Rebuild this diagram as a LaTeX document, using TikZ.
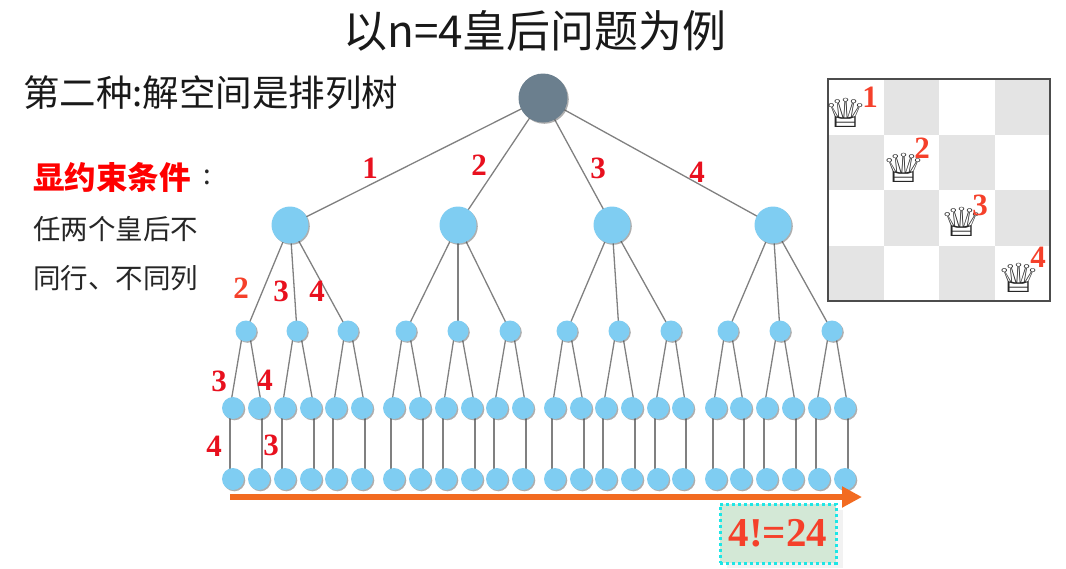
\documentclass[tikz,border=0pt]{standalone}
\usepackage{fontspec}
\setmainfont{Liberation Serif}
\newfontfamily\cjk{Noto Sans CJK SC}
\newfontfamily\symf{DejaVu Sans Bold}
\usetikzlibrary{shadows,arrows.meta,backgrounds}
\definecolor{nodeblue}{HTML}{7FCDF2}
\definecolor{rootgrey}{HTML}{6B7F8E}
\definecolor{edgegrey}{HTML}{808080}
\definecolor{cellgrey}{HTML}{E4E4E4}
\definecolor{lblred}{HTML}{E8101E}
\definecolor{lblorange}{HTML}{F5402A}
\definecolor{arroworange}{HTML}{F26B21}
\definecolor{boxgreen}{HTML}{D3E8D6}
\definecolor{dotcyan}{HTML}{1CE6E6}
\tikzset{
  x=1pt,y=-1pt,
  treenode/.style={circle,fill=nodeblue,draw=none,inner sep=0pt,
    drop shadow={shadow xshift=1.3pt,shadow yshift=-1.3pt,opacity=.45,fill=black!70}},
  lone/.style={treenode,minimum size=37pt},
  ltwo/.style={treenode,minimum size=21pt},
  lthree/.style={treenode,minimum size=22pt},
  rootnode/.style={treenode,fill=rootgrey,minimum size=49pt},
  edge/.style={draw=edgegrey,line width=1.3pt},
  num/.style={inner sep=0pt,font=\fontsize{31}{31}\selectfont\bfseries,text=lblred},
  numo/.style={num,text=lblorange},
  cjktext/.style={inner sep=0pt,font=\cjk\fontsize{27.5}{27.5}\selectfont,text=black!85},
  queen/.style={inner sep=0pt,font=\symf\fontsize{40}{40}\selectfont,text=black!85},
  cell/.style={fill=cellgrey,draw=none},
}
\begin{document}
\begin{tikzpicture}
\useasboundingbox (0,0) rectangle (1066,568);
% tree nodes
\node[rootnode] (r) at (543,98) {};
\foreach \x [count=\i] in {290,458,612,773}
  \node[lone] (a\i) at (\x,225) {};
\foreach \x [count=\i] in {246,297,348,406,458,510,567,619,671,728,780,832}
  \node[ltwo] (b\i) at (\x,331) {};
\foreach \x [count=\i] in {233,259,285,311,336,362,394,420,446,472,497,523,555,581,606,632,658,683,716,741,767,793,819,845}{
  \node[lthree] (c\i) at (\x,408) {};
  \node[lthree] (d\i) at (\x,479) {};
}
% connectors
\begin{scope}[on background layer]
  \foreach \i in {1,...,4} \draw[edge] (r.center) -- (a\i.center);
  \foreach \i in {1,...,12}{
    \pgfmathtruncatemacro\p{int((\i+2)/3)}
    \draw[edge] (a\p.center) -- (b\i.center);
  }
  \foreach \i in {1,...,24}{
    \pgfmathtruncatemacro\p{int((\i+1)/2)}
    \pgfmathtruncatemacro\s{mod(\i,2)==1 ? -3 : 3}
    \draw[edge] ([xshift=\s pt]b\p.center) -- ([xshift=\s pt]c\i.center);
    \draw[edge] ([xshift=\s pt]c\i.center) -- ([xshift=\s pt]d\i.center);
  }
\end{scope}
% edge labels
\node[num] (l1) at (370,168) {1};
\node[num] (l2) at (479,165) {2};
\node[num] (l3) at (598,168) {3};
\node[num] (l4) at (697,172) {4};
\node[numo] (m1) at (241,288) {2};
\node[num] (m2) at (281,291) {3};
\node[num] (m3) at (317,291) {4};
\node[num] (n1) at (219,381) {3};
\node[num] (n2) at (265,380) {4};
\node[num] (n3) at (214,446) {4};
\node[num] (n4) at (271,445) {3};
% texts
\node[inner sep=0pt,font=\cjk\fontsize{44}{44}\selectfont,text=black!90] (title) at (535,31) {以n=4皇后问题为例};
\node[inner sep=0pt,anchor=west,font=\cjk\fontsize{36.5}{36.5}\selectfont,text=black!90] (sub) at (23,93) {第二种:解空间是排列树};
\node[inner sep=0pt,anchor=west,font=\cjk\bfseries\fontsize{31.6}{31.6}\selectfont,text=red] (cond) at (33,177) {显约束条件};
\node[cjktext] (colon) at (207,177) {:};
\node[cjktext,anchor=west] (t1) at (33,229) {任两个皇后不};
\node[cjktext,anchor=west] (t2) at (33,278) {同行、不同列};
% board
\foreach \c/\r in {1/0,3/0,0/1,2/1,1/2,3/2,0/3,2/3}
  \fill[cell] ({828+55.5*\c},{79+55.5*\r}) rectangle ++(55.5,55.5);
\draw[black!70,line width=1.1pt] (828,79) rectangle (1050,301);
\node[queen] (q1) at (846,113) {\scalebox{1.25}[1]{♕}};
\node[queen] (q2) at (904,168) {\scalebox{1.25}[1]{♕}};
\node[queen] (q3) at (962,222) {\scalebox{1.25}[1]{♕}};
\node[queen] (q4) at (1019,278) {\scalebox{1.25}[1]{♕}};
\node[numo] (p1) at (870,97) {1};
\node[numo] (p2) at (922,148) {2};
\node[numo] (p3) at (980,205) {3};
\node[numo] (p4) at (1038,257) {4};
% total arrow
\coordinate (as) at (230,497);
\coordinate (ae) at (862,497);
\draw[arroworange,line width=6.5pt,-{Triangle[length=20pt,width=20pt]}] (as) -- (ae);
% result box
\fill[black!5] (727,510) rectangle (843,568);
\node[draw=dotcyan,fill=boxgreen,line width=3pt,dash pattern=on 3pt off 3pt,
  minimum width=116pt,minimum height=59pt,inner sep=0pt,
  font=\fontsize{41}{41}\selectfont\bfseries,text=lblorange] (res) at (778,533.5) {4!=24};
\end{tikzpicture}
\end{document}
